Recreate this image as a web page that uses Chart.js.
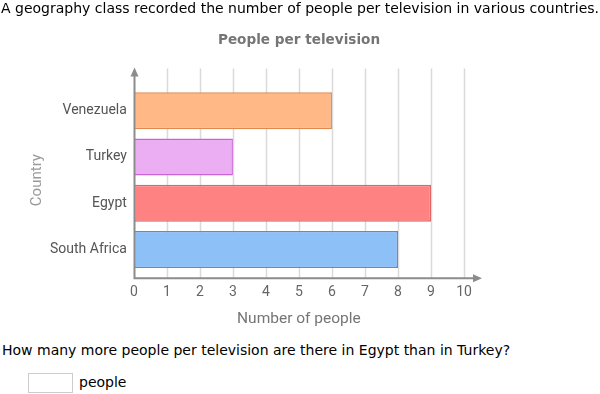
<!DOCTYPE html>
<html>
<head>
<meta charset="utf-8">
<script src="https://cdn.jsdelivr.net/npm/chart.js@4"></script>
<style>
  body { margin: 0; width: 600px; height: 394px; position: relative; background: #fff; overflow: hidden; font-family: "DejaVu Sans", sans-serif; color: #000; }
  #intro { position: absolute; left: 1px; top: 0px; font-size: 14px; white-space: nowrap; }
  #title { position: absolute; left: 199px; width: 200px; top: 31px; line-height: 16px; text-align: center; font-size: 13.6px; font-weight: bold; color: #757575; white-space: nowrap; }
  #question { position: absolute; left: 2px; top: 342px; font-size: 14px; white-space: nowrap; }
  #answer { position: absolute; left: 28px; top: 373px; width: 45px; height: 20px; border: 1px solid #ccc; box-sizing: border-box; }
  #unit { position: absolute; left: 79px; top: 374px; font-size: 14px; }
  #wrap { position: absolute; left: 0; top: 0; width: 600px; height: 340px; }
</style>
</head>
<body>
<div id="wrap"><canvas id="chart"></canvas></div>
<div id="intro">A geography class recorded the number of people per television in various countries.</div>
<div id="title">People per television</div>
<div id="question">How many more people per television are there in Egypt than in Turkey?</div>
<div id="answer"></div>
<div id="unit">people</div>
<script>
// 数据
const countries = ['Venezuela', 'Turkey', 'Egypt', 'South Africa'];
const people = [6, 3, 9, 8];
const fillColors = ['#ffb886', '#ecaef3', '#ff8282', '#8cc0f7'];
const edgeColors = ['#e0894c', '#c964d6', '#e06464', '#4f8ee0'];
const xTicks = [0, 1, 2, 3, 4, 5, 6, 7, 8, 9, 10];

// 坐标轴和网格线（带箭头）
const axesPlugin = {
    id: 'axesPlugin',
    beforeDatasetsDraw(chart) {
        const ctx = chart.ctx;
        const x = chart.scales.x;
        const area = chart.chartArea;
        const top = area.top - 19;
        const bottom = area.bottom + 5.5;
        ctx.save();
        ctx.strokeStyle = '#dadada';
        ctx.lineWidth = 1.5;
        xTicks.forEach(t => {
            if (t === 0) return;
            let px = Math.round(x.getPixelForValue(t)) + 0.5;
            ctx.beginPath();
            ctx.moveTo(px, top);
            ctx.lineTo(px, bottom);
            ctx.stroke();
        });
        ctx.restore();
    },
    afterDatasetsDraw(chart) {
        const ctx = chart.ctx;
        const x = chart.scales.x;
        const area = chart.chartArea;
        const top = area.top - 19;
        const bottom = area.bottom + 5.5;
        const x0 = Math.round(x.getPixelForValue(0)) + 0.5;
        const xEnd = x.getPixelForValue(10) + 18;
        ctx.save();
        ctx.strokeStyle = '#8c8c8c';
        ctx.fillStyle = '#8c8c8c';
        ctx.lineWidth = 2;
        ctx.beginPath();
        ctx.moveTo(x0, top + 5);
        ctx.lineTo(x0, bottom);
        ctx.lineTo(xEnd - 5, bottom);
        ctx.stroke();
        // 箭头
        ctx.beginPath();
        ctx.moveTo(x0, top - 1);
        ctx.lineTo(x0 - 4, top + 8);
        ctx.lineTo(x0 + 4, top + 8);
        ctx.closePath();
        ctx.fill();
        ctx.beginPath();
        ctx.moveTo(xEnd, bottom);
        ctx.lineTo(xEnd - 9, bottom - 4);
        ctx.lineTo(xEnd - 9, bottom + 4);
        ctx.closePath();
        ctx.fill();
        ctx.restore();
    }
};

new Chart(document.getElementById('chart'), {
    type: 'bar',
    data: {
        labels: countries,
        datasets: [{
            data: people,
            backgroundColor: fillColors,
            borderColor: edgeColors,
            borderWidth: 1.5,
            borderSkipped: false,
            categoryPercentage: 1,
            barPercentage: 0.8
        }]
    },
    options: {
        indexAxis: 'y',
        responsive: true,
        maintainAspectRatio: false,
        animation: false,
        layout: { padding: { top: 87.5, right: 136, bottom: 9, left: 22 } },
        plugins: {
            legend: { display: false },
            tooltip: { enabled: false },
            title: { display: false }
        },
        scales: {
            x: {
                type: 'linear',
                min: 0,
                max: 10,
                afterBuildTicks: axis => { axis.ticks = xTicks.map(v => ({ value: v })); },
                grid: { display: false, drawTicks: false },
                border: { display: false },
                ticks: {
                    color: '#666',
                    font: { family: 'Roboto', size: 14 },
                    padding: 11,
                    maxRotation: 0
                },
                title: {
                    display: true,
                    text: 'Number of people',
                    color: '#757575',
                    font: { family: 'Roboto', size: 15.5, lineHeight: 1 },
                    padding: { top: 0, bottom: 4 }
                }
            },
            y: {
                type: 'category',
                grid: { display: false, drawTicks: false },
                border: { display: false },
                ticks: {
                    color: '#555',
                    font: { family: 'Roboto', size: 14 },
                    padding: 7
                },
                title: {
                    display: true,
                    text: 'Country',
                    color: '#9a9a9a',
                    font: { family: 'Roboto', size: 15, lineHeight: 1 },
                    padding: { top: 8, bottom: -2 }
                }
            }
        }
    },
    plugins: [axesPlugin]
});
</script>
</body>
</html>
